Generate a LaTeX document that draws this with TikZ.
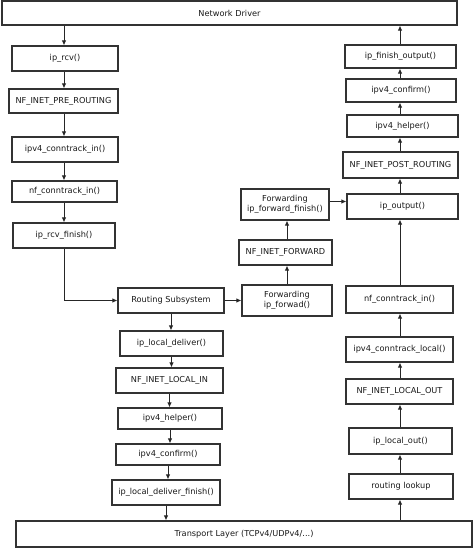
\documentclass[tikz,border=0pt]{standalone}
\usepackage{fontspec}
\setmainfont{DejaVu Sans}
\usetikzlibrary{arrows.meta}
\begin{document}
\begin{tikzpicture}[x=1pt,y=-1pt,
  box/.style={draw=black!80,line width=1.1pt,fill=white,inner sep=0pt,align=center,
    text=black!90,font=\fontsize{8.2}{9.6}\selectfont},
  arr/.style={draw=black!85,line width=1pt,-{Latex[length=5pt,width=4.5pt]}}]
\useasboundingbox (0,0) rectangle (474,548);
\newcommand{\bx}[7]{\node[box,minimum width=#4,minimum height=#5] (#1) at (#2,#3) {#6};}
% top / bottom bars
\bx{nd}{229.5}{13}{455pt}{24pt}{Network Driver}{}
\bx{tl}{244}{534}{456pt}{26pt}{Transport Layer (TCPv4/UDPv4/...)}{}
% left column
\bx{rcv}{65}{58.5}{106pt}{25pt}{ip\_rcv()}{}
\bx{pre}{63.5}{101}{109pt}{24pt}{NF\_INET\_PRE\_ROUTING}{}
\bx{cin}{65}{149.5}{106pt}{25pt}{ipv4\_conntrack\_in()}{}
\bx{nfin}{64.5}{191.5}{105pt}{21pt}{nf\_conntrack\_in()}{}
\bx{rfin}{64}{235.5}{102pt}{25pt}{ip\_rcv\_finish()}{}
% routing / local delivery column
\bx{rs}{171}{300.5}{106pt}{25pt}{Routing Subsystem}{}
\bx{ld}{171.5}{343.5}{103pt}{25pt}{ip\_local\_deliver()}{}
\bx{lin}{169.5}{380.5}{107pt}{25pt}{NF\_INET\_LOCAL\_IN}{}
\bx{hA}{170}{418.5}{104pt}{21pt}{ipv4\_helper()}{}
\bx{cA}{168}{454.5}{104pt}{21pt}{ipv4\_confirm()}{}
\bx{ldf}{166}{492.5}{108pt}{25pt}{ip\_local\_deliver\_finish()}{}
% forwarding column
\bx{ff}{285}{204.5}{88pt}{31pt}{Forwarding\\ip\_forward\_finish()}{}
\bx{fw}{285.5}{252.5}{93pt}{25pt}{NF\_INET\_FORWARD}{}
\bx{fwd}{287}{300.5}{90pt}{31pt}{Forwarding\\ip\_forwad()}{}
% output column
\bx{fo}{400.5}{56.5}{111pt}{23pt}{ip\_finish\_output()}{}
\bx{cB}{401}{90.5}{110pt}{23pt}{ipv4\_confirm()}{}
\bx{hB}{402.5}{126}{111pt}{22pt}{ipv4\_helper()}{}
\bx{post}{400.5}{165}{115pt}{26pt}{NF\_INET\_POST\_ROUTING}{}
\bx{out}{402.5}{206.5}{111pt}{25pt}{ip\_output()}{}
\bx{nfB}{399.5}{299.5}{107pt}{27pt}{nf\_conntrack\_in()}{}
\bx{cl}{399.5}{349.5}{107pt}{25pt}{ipv4\_conntrack\_local()}{}
\bx{lout}{399.5}{391.5}{107pt}{25pt}{NF\_INET\_LOCAL\_OUT}{}
\bx{lo}{400.5}{441}{103pt}{26pt}{ip\_local\_out()}{}
\bx{rl}{401}{486.5}{104pt}{25pt}{routing lookup}{}
% column axes
\coordinate (xl) at (64,0);
\coordinate (xf) at (287,0);
\coordinate (xr) at (400,0);
% left column arrows
\draw[arr] (nd.south -| xl) -- (rcv.north -| xl);
\draw[arr] (rcv.south -| xl) -- (pre.north -| xl);
\draw[arr] (pre.south -| xl) -- (cin.north -| xl);
\draw[arr] (cin.south -| xl) -- (nfin.north -| xl);
\draw[arr] (nfin.south -| xl) -- (rfin.north -| xl);
\draw[arr] (rfin.south -| xl) |- (rs.west);
% local delivery arrows
\draw[arr] (rs.south) -- (rs.south |- ld.north);
\draw[arr] (ld.south) -- (ld.south |- lin.north);
\draw[arr] (lin.south) -- (lin.south |- hA.north);
\draw[arr] (hA.south) -- (hA.south |- cA.north);
\draw[arr] (cA.south) -- (cA.south |- ldf.north);
\draw[arr] (ldf.south) -- (ldf.south |- tl.north);
% forwarding arrows
\draw[arr] (rs.east) -- (fwd.west);
\draw[arr] (fwd.north -| xf) -- (fw.south -| xf);
\draw[arr] (fw.north -| xf) -- (ff.south -| xf);
\draw[arr] ([yshift=3pt]ff.east) -- ([yshift=3pt]ff.east -| out.west);
% output column arrows
\draw[arr] (tl.north -| xr) -- (rl.south -| xr);
\draw[arr] (rl.north -| xr) -- (lo.south -| xr);
\draw[arr] (lo.north -| xr) -- (lout.south -| xr);
\draw[arr] (lout.north -| xr) -- (cl.south -| xr);
\draw[arr] (cl.north -| xr) -- (nfB.south -| xr);
\draw[arr] (nfB.north -| xr) -- (out.south -| xr);
\draw[arr] (out.north -| xr) -- (post.south -| xr);
\draw[arr] (post.north -| xr) -- (hB.south -| xr);
\draw[arr] (hB.north -| xr) -- (cB.south -| xr);
\draw[arr] (cB.north -| xr) -- (fo.south -| xr);
\draw[arr] (fo.north -| xr) -- (nd.south -| xr);
\end{tikzpicture}
\end{document}
